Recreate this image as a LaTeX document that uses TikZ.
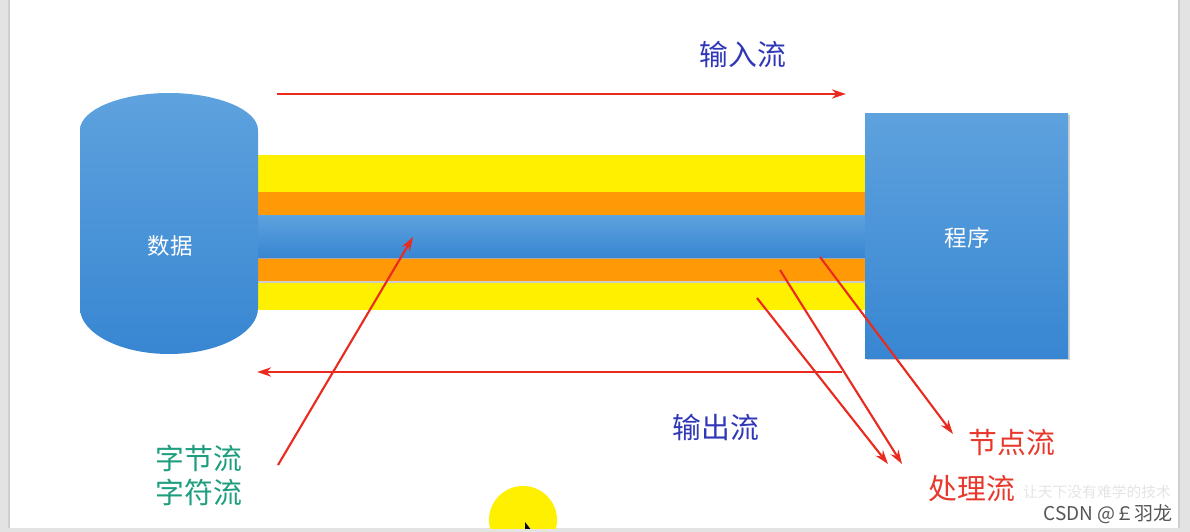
\documentclass[tikz,border=0pt]{standalone}
\usepackage{fontspec}
\setmainfont{Noto Sans CJK SC}
\usetikzlibrary{arrows.meta}
\definecolor{bgGray}{HTML}{E2E3E2}
\definecolor{edgeGray}{HTML}{CFCFCF}
\definecolor{boxTop}{HTML}{5EA2DE}
\definecolor{boxBot}{HTML}{3886D2}
\definecolor{bandYellow}{HTML}{FFF000}
\definecolor{bandOrange}{HTML}{FF9A06}
\definecolor{arrowRed}{HTML}{EA2A1E}
\definecolor{labelBlue}{HTML}{3038B8}
\definecolor{labelTeal}{HTML}{1E9E7E}
\definecolor{labelRed}{HTML}{E8382C}
\definecolor{markGray}{HTML}{555555}
\tikzset{
  x=0.025cm, y=-0.025cm,
  flowarrow/.style={draw=arrowRed, line width=1.5pt, -{Stealth[length=10pt,width=6.5pt]}},
  flowlabel/.style={font=\fontsize{20.5}{22}\selectfont, inner sep=0pt},
  whitetext/.style={font=\fontsize{16}{18}\selectfont, text=white, inner sep=0pt},
}
\begin{document}
\begin{tikzpicture}
% page and frame
\fill[white] (0,0) rectangle (1190,532);
\useasboundingbox (0,0) rectangle (1190,532);
\fill[bgGray] (0,0) rectangle (9,532);
\fill[edgeGray] (8,0) rectangle (10,532);
\fill[bgGray] (1178,0) rectangle (1190,532);
\fill[edgeGray] (1178,0) rectangle (1180,532);
\fill[bgGray] (0,528) rectangle (1190,532);

% bands
\fill[bandYellow] (258,155) rectangle (866,192);
\fill[bandOrange] (258,192) rectangle (866,215);
\fill[black!35] (258,256) rectangle (866,259);
\shade[top color=boxTop, bottom color=boxBot] (258,215) rectangle (868,257);
\fill[bandOrange] (258,259) rectangle (866,282);
\fill[black!20] (258,281) rectangle (866,283);
\fill[bandYellow] (258,283) rectangle (866,310);

% data cylinder
\shade[top color=boxTop, bottom color=boxBot]
  (80,130) -- (80,308)
  .. controls (80,333) and (120,354) .. (169,354)
  .. controls (218,354) and (258,333) .. (258,308)
  -- (258,130)
  .. controls (258,110) and (218,93) .. (169,93)
  .. controls (120,93) and (80,110) .. (80,130) -- cycle;
\node[whitetext] (data) at (170,246) {数据};

% program box
\fill[black!18] (867,115) rectangle (1070,360);
\shade[top color=boxTop, bottom color=boxBot] (865,113) rectangle (1068,358);
\node[whitetext] (prog) at (967,238) {程序};

% labels
\node[flowlabel, text=labelBlue] (inl) at (743,54) {输入流};
\node[flowlabel, text=labelBlue] (outl) at (716,427) {输出流};
\node[flowlabel, text=labelTeal] (bytel) at (199,458) {字节流};
\node[flowlabel, text=labelTeal] (charl) at (199,492) {字符流};
\node[text=black!10, font=\fontsize{10.5}{12}\selectfont\itshape, inner sep=0pt] (wm) at (1097,492) {让天下没有难学的技术};
\node[flowlabel, text=labelRed] (nodel) at (1012,443) {节点流};
\node[flowlabel, text=labelRed] (procl) at (972,489) {处理流};
\node[text=markGray, font=\fontsize{13.5}{15}\selectfont, inner sep=0pt] (csdn) at (1108,514) {CSDN @￡羽龙};

% coordinates for arrows
\coordinate (inS) at (277,94);
\coordinate (inE) at (846,94);
\coordinate (outS) at (842,372);
\coordinate (outE) at (257,372);
\coordinate (byS) at (278,465);
\coordinate (byE) at (413,237);
\coordinate (n1S) at (820,257);
\coordinate (n1E) at (953,434);
\coordinate (p1S) at (780,270);
\coordinate (p1E) at (902,464);
\coordinate (p2S) at (757,298);
\coordinate (p2E) at (888,464);

\draw[flowarrow] (inS) -- (inE);
\draw[flowarrow] (outS) -- (outE);
\draw[flowarrow] (byS) -- (byE);
\draw[flowarrow] (n1S) -- (n1E);
\draw[flowarrow] (p1S) -- (p1E);
\draw[flowarrow] (p2S) -- (p2E);

% cursor highlight
\begin{scope}
\clip (0,0) rectangle (1190,528);
\fill[bandYellow] (523,520) circle (34);
\fill[black] (525,522) -- (525,540) -- (529,535) -- (535,535) -- cycle;
\end{scope}
\end{tikzpicture}
\end{document}
